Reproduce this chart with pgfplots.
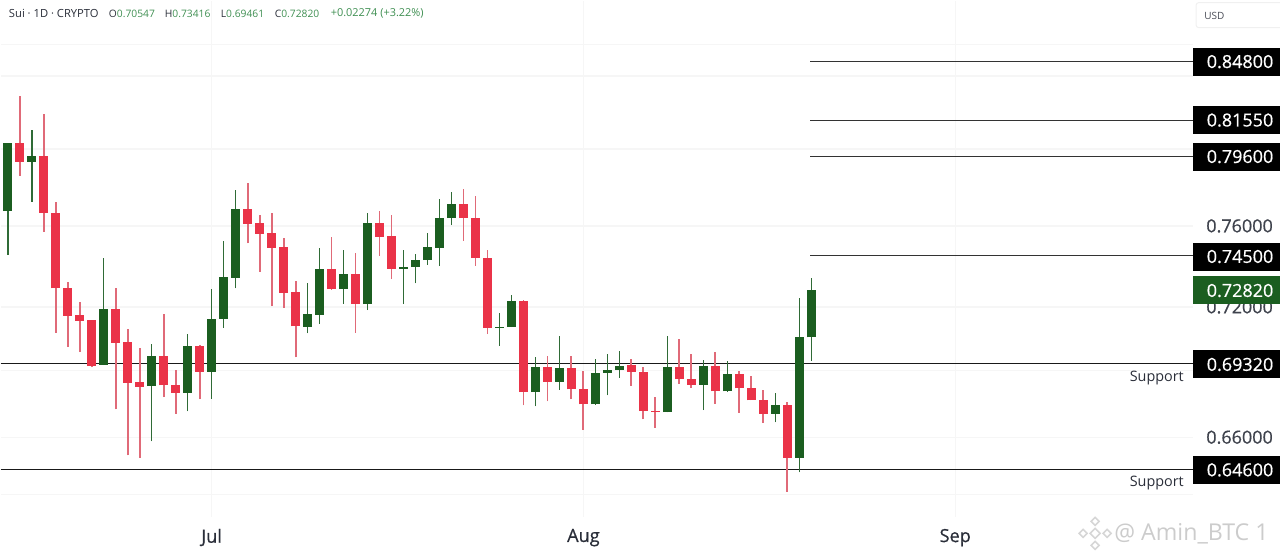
\documentclass[border=0pt]{standalone}
\usepackage{pgfplots}
\usepackage{pgfplotstable}
\usepackage{fontspec}
\setmainfont{Open Sans}
\newfontfamily\labfont[FakeBold=0.6]{Open Sans}
\pgfplotsset{compat=1.18}
\definecolor{cred}{HTML}{EA3348}
\definecolor{cgreen}{HTML}{1B5E20}
\definecolor{wred}{HTML}{E06A78}
\definecolor{wgreen}{HTML}{2F6B36}
\definecolor{gridc}{HTML}{F6F6F6}
\definecolor{valg}{HTML}{3F8F52}
\definecolor{txt}{HTML}{2A2E39}
\pgfplotstableread{
i o h l c
1 .8033 .8286 .7859 .7932
3 .7964 .8189 .7570 .7667
4 .7667 .7724 .7077 .7289
5 .7289 .7322 .7010 .7157
6 .7159 .7221 .6986 .7133
7 .7136 .7138 .6915 .6920
9 .7192 .7289 .6724 .7030
10 .7033 .7097 .6520 .6845
11 .6848 .7005 .6510 .6825
13 .6968 .7164 .6779 .6833
14 .6834 .6901 .6705 .6800
16 .7015 .7017 .6768 .6894
20 .7688 .7820 .7512 .7611
21 .7613 .7659 .7371 .7560
22 .7564 .7664 .7203 .7491
23 .7493 .7541 .7197 .7270
24 .7271 .7327 .6961 .7107
27 .7383 .7546 .7284 .7285
29 .7358 .7465 .7077 .7213
31 .7618 .7677 .7449 .7546
32 .7550 .7654 .7335 .7386
38 .7712 .7790 .7525 .7642
39 .7642 .7754 .7400 .7439
40 .7439 .7478 .7070 .7100
43 .7229 .7231 .6742 .6801
45 .6917 .6967 .6760 .6850
47 .6914 .6967 .6768 .6814
48 .6815 .6898 .6631 .6746
52 .6924 .6952 .6830 .6894
53 .6895 .6917 .6679 .6716
54 .6718 .6779 .6641 .6715
56 .6918 .7049 .6841 .6859
57 .6860 .6976 .6821 .6836
59 .6923 .6984 .6750 .6805
61 .6886 .6898 .6709 .6819
62 .6819 .6877 .6764 .6765
63 .6766 .6811 .6663 .6703
65 .6745 .6757 .6363 .6509
}\redcandles
\pgfplotstableread{
i o h l c
0 .7676 .8033 .7454 .8033
2 .7932 .8104 .7724 .7964
8 .6928 .7440 .6926 .7192
12 .6829 .7023 .6582 .6968
15 .6800 .7070 .6715 .7015
17 .6894 .7287 .6772 .7144
18 .7142 .7524 .7100 .7343
19 .7341 .7785 .7289 .7688
25 .7105 .7314 .7074 .7164
26 .7162 .7491 .7120 .7383
28 .7285 .7478 .7216 .7358
30 .7213 .7664 .7184 .7618
33 .7386 .7478 .7213 .7395
34 .7394 .7459 .7314 .7429
35 .7429 .7565 .7404 .7493
36 .7491 .7740 .7399 .7642
37 .7640 .7773 .7604 .7712
41 .7100 .7171 .7016 .7105
42 .7105 .7256 .7104 .7229
44 .6801 .6961 .6737 .6917
46 .6850 .7060 .6811 .6914
49 .6746 .6953 .6745 .6891
50 .6891 .6975 .6787 .6905
51 .6903 .6993 .6866 .6923
55 .6712 .7060 .6711 .6918
58 .6836 .6947 .6720 .6923
60 .6805 .6945 .6804 .6886
64 .6703 .6800 .6666 .6743
66 .6509 .7242 .6446 .7055
67 .70547 .73416 .69461 .7282
}\greencandles
\tikzset{px/.style={x=0.75pt,y=-0.75pt,yshift=387.75pt}}
\begin{document}
\begin{tikzpicture}
\begin{axis}[
  at={(0pt,0pt)},anchor=south west,
  scale only axis,width=894.75pt,height=387.75pt,
  ymode=log,xmin=-0.5833,xmax=98.83,ymin=0.6256,ymax=0.8833,
  axis line style={draw=none},
  major tick length=0pt,
  grid=major,
  grid style={gridc,line width=1pt},
  xtick={17,48,79},xticklabels={Jul,Aug,Sep},
  ytick={0.6353,0.66,0.69,0.72,0.76,0.80,0.84,0.858},
  yticklabels={,0.66000,,0.72000,0.76000,,,},
  yticklabel pos=right,
  yticklabel style={anchor=west,inner sep=0pt,xshift=9.75pt,font=\labfont\fontsize{13.5}{15}\selectfont,text=txt!90!white},
  xticklabel style={inner sep=0pt,yshift=-8.5pt,font=\labfont\fontsize{13.6}{15}\selectfont,text=txt},
  clip=false,
  set layers=standard,
]
\addplot[black!90,line width=0.8pt,forget plot] coordinates {(-0.6,0.6932) (98.83,0.6932)};
\addplot[black!90,line width=0.8pt,forget plot] coordinates {(-0.6,0.646) (98.83,0.646)};
\addplot[black!80,line width=0.75pt,forget plot] coordinates {(66.92,0.745) (98.83,0.745)};
\addplot[black!80,line width=0.75pt,forget plot] coordinates {(66.92,0.796) (98.83,0.796)};
\addplot[black!80,line width=0.75pt,forget plot] coordinates {(66.92,0.8155) (98.83,0.8155)};
\addplot[black!80,line width=0.75pt,forget plot] coordinates {(66.92,0.848) (98.83,0.848)};
\addplot[draw=none,mark=none,forget plot,
  error bars/.cd,y dir=plus,y explicit,error mark=none,error bar style={wred,line width=1.4pt}]
  table[x=i,y=l,y error plus expr=\thisrow{h}-\thisrow{l}] {\redcandles};
\addplot[draw=none,mark=none,forget plot,
  error bars/.cd,y dir=plus,y explicit,error mark=none,error bar style={wgreen,line width=1.2pt}]
  table[x=i,y=l,y error plus expr=\thisrow{h}-\thisrow{l}] {\greencandles};
\addplot[draw=none,mark=none,forget plot,
  error bars/.cd,y dir=plus,y explicit,error mark=none,error bar style={cred,line width=6.6pt}]
  table[x=i,y=c,y error plus expr=\thisrow{o}-\thisrow{c}] {\redcandles};
\addplot[draw=none,mark=none,forget plot,
  error bars/.cd,y dir=plus,y explicit,error mark=none,error bar style={cgreen,line width=6.6pt}]
  table[x=i,y=o,y error plus expr=\thisrow{c}-\thisrow{o}] {\greencandles};
\end{axis}
\path[use as bounding box] (0pt,-30.75pt) rectangle (960pt,387.75pt);
\begin{scope}[px]
  % header
  \def\hd{\fontsize{7.7}{9}\selectfont}
  \node[anchor=west,inner sep=0pt,text=txt,font=\fontsize{8.4}{9}\selectfont] at (8,13) {Sui · 1D · CRYPTO};
  \node[anchor=west,inner sep=0pt,font=\hd,text=valg] at (108,13) {{\color{txt}O}0.70547};
  \node[anchor=west,inner sep=0pt,font=\hd,text=valg] at (164,13) {{\color{txt}H}0.73416};
  \node[anchor=west,inner sep=0pt,font=\hd,text=valg] at (220,13) {{\color{txt}L}0.69461};
  \node[anchor=west,inner sep=0pt,font=\hd,text=valg] at (274,13) {{\color{txt}C}0.72820};
  \node[anchor=west,inner sep=0pt,font=\fontsize{8.2}{9}\selectfont,text=valg] at (330,13) {+0.02274 (+3.22\%)};
  % USD box
  \draw[black!6,line width=0.75pt,rounded corners=2pt] (1196,2) rectangle (1285,27);
  \node[anchor=west,inner sep=0pt,font=\fontsize{7.5}{9}\selectfont,text=txt!85!white] at (1204,15) {USD};
  % level labels
  \foreach \yy/\lab in {61/0.84800,119.5/0.81550,156/0.79600,256/0.74500,364/0.69320,469.5/0.64600}{
    \fill[black] (1193,\yy-14) rectangle (1280,\yy+14);
    \node[text=white,inner sep=0pt,font=\labfont\fontsize{13.5}{15}\selectfont] at (1240,\yy) {\lab};
  }
  \fill[cgreen] (1193,276) rectangle (1280,304);
  \node[text=white,inner sep=0pt,font=\labfont\fontsize{13.5}{15}\selectfont] at (1240,290) {0.72820};
  % support labels
  \node[anchor=east,inner sep=0pt,text=txt,font=\fontsize{10.8}{12}\selectfont] at (1184,378) {Support};
  \node[anchor=east,inner sep=0pt,text=txt,font=\fontsize{10.8}{12}\selectfont] at (1184,483) {Support};
  % watermark
  \node[anchor=west,inner sep=0pt,text=black!20,font=\fontsize{17.4}{20}\selectfont] at (1114,533) {@ Amin\_BTC 1};
  \foreach \a/\b/\s in {1095/521/4,1095/545/4,1083/533/4,1107/533/4,1095/533/5}{
    \draw[black!16,line width=1.1pt] (\a-\s,\b) -- (\a,\b-\s) -- (\a+\s,\b) -- (\a,\b+\s) -- cycle;
  }
\end{scope}
\end{tikzpicture}
\end{document}
